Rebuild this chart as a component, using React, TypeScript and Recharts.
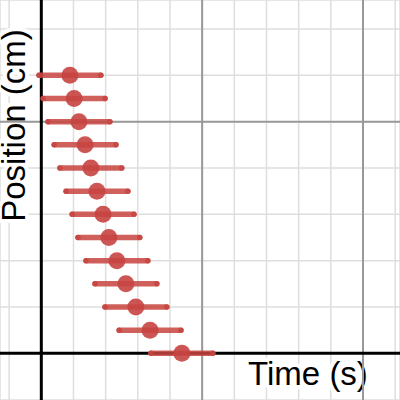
import { CartesianGrid, ErrorBar, ReferenceLine, Scatter, ScatterChart, XAxis, YAxis } from 'recharts';

// 시간(s) / 위치(cm) 측정값, 시간 오차(±)
const times = [0.89, 1.02, 1.17, 1.36, 1.54, 1.73, 1.92, 2.1, 2.35, 2.63, 2.94, 3.38, 4.37];
const positions = [6, 5.5, 5, 4.5, 4, 3.5, 3, 2.5, 2, 1.5, 1, 0.5, 0];
const timeErrors = [0.96, 0.96, 0.96, 0.96, 0.96, 0.96, 0.96, 0.96, 0.96, 0.96, 0.96, 0.96, 0.96];

// 눈금(격자) 값
const xTicks = [-1, 0, 1, 2, 3, 4, 5, 6, 7, 8, 9, 10, 11];
const yTicks = [-1, 0, 1, 2, 3, 4, 5, 6, 7];
const xMajor = [5, 10];
const yMajor = [5];

const X_DOMAIN = [-1.284, 11.15];
const Y_DOMAIN = [-1.008, 7.626];

const RED = '#c74440';
const FONT = '"Liberation Sans", Arial, sans-serif';

const data = times.map((t, i) => ({ t, pos: positions[i], err: timeErrors[i] }));

export default function App() {
  return (
    <div style={{ position: 'absolute', left: 0, top: 0, width: 400, height: 400, background: '#fff' }}>
      <ScatterChart width={400} height={400} margin={{ top: 0, right: 0, bottom: 0, left: 0 }}>
        <XAxis type="number" dataKey="t" domain={X_DOMAIN} ticks={xTicks} allowDataOverflow hide />
        <YAxis type="number" dataKey="pos" domain={Y_DOMAIN} ticks={yTicks} allowDataOverflow hide />
        <CartesianGrid stroke="#dedede" strokeWidth={1.5} />
        {xMajor.map(v => (
          <ReferenceLine key={`xm-${v}`} x={v} stroke="#999" strokeWidth={2} />
        ))}
        {yMajor.map(v => (
          <ReferenceLine key={`ym-${v}`} y={v} stroke="#999" strokeWidth={2} />
        ))}
        <ReferenceLine x={0} stroke="#000" strokeWidth={3} />
        <ReferenceLine y={0} stroke="#000" strokeWidth={3} />
        <Scatter
          data={data}
          isAnimationActive={false}
          shape={(p: any) => <circle cx={p.cx} cy={p.cy} r={8.5} fill={RED} fillOpacity={0.9} />}
        >
          <ErrorBar
            dataKey="err"
            direction="x"
            width={0}
            stroke={RED}
            strokeWidth={5.5}
            strokeOpacity={0.85}
            strokeLinecap="round"
            isAnimationActive={false}
          />
        </Scatter>
        <text
          x={308}
          y={385}
          textAnchor="middle"
          fontFamily={FONT}
          fontSize={33}
          fill="#000"
          stroke="#fff"
          strokeWidth={8}
          strokeLinejoin="round"
          paintOrder="stroke"
        >
          Time (s)
        </text>
        <text
          x={25}
          y={125.5}
          transform="rotate(-90, 25, 125.5)"
          textAnchor="middle"
          fontFamily={FONT}
          fontSize={33}
          fill="#000"
          stroke="#fff"
          strokeWidth={8}
          strokeLinejoin="round"
          paintOrder="stroke"
        >
          Position (cm)
        </text>
      </ScatterChart>
    </div>
  );
}
